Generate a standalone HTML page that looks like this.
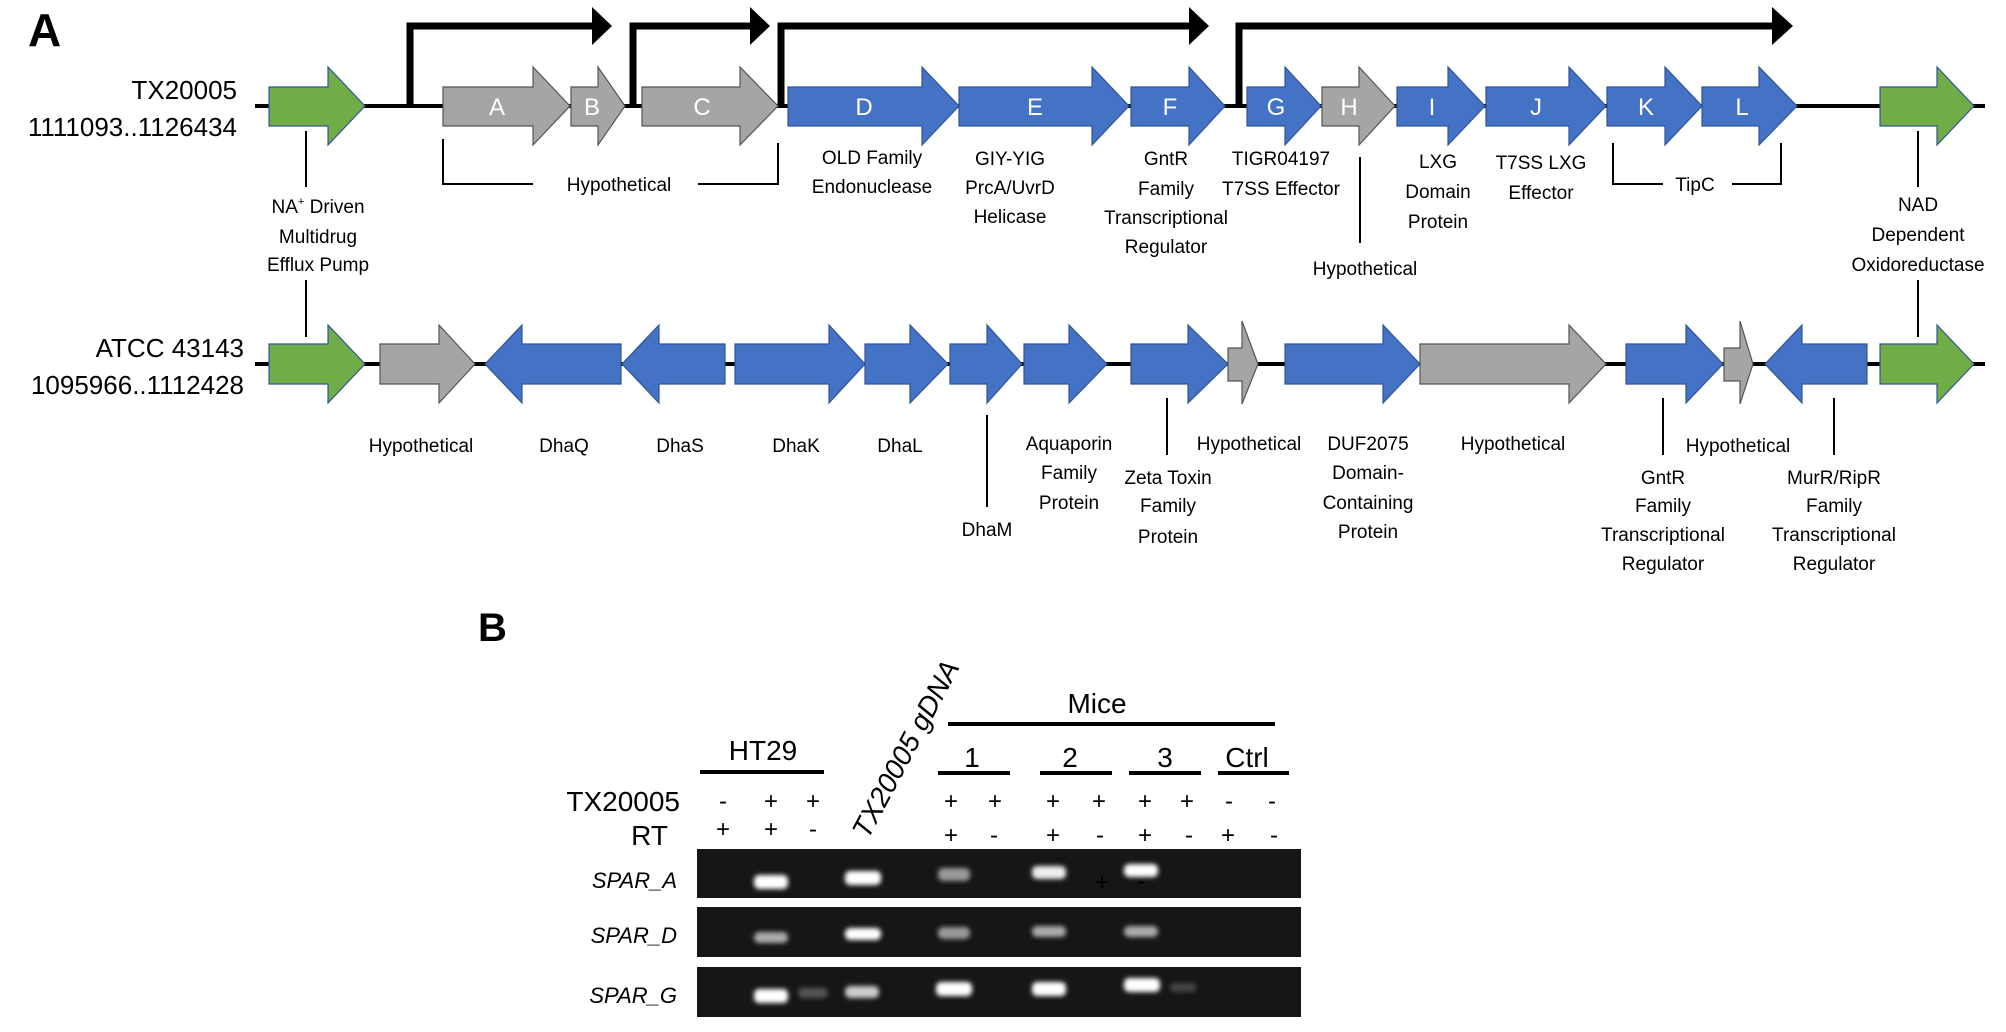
<!DOCTYPE html>
<html><head><meta charset="utf-8"><style>
html,body{margin:0;padding:0;background:#fff;}
svg{display:block;}
text{font-family:"Liberation Sans",sans-serif;}
</style></head><body>
<svg width="2006" height="1032" viewBox="0 0 2006 1032" xmlns="http://www.w3.org/2000/svg">
<defs>
<filter id="bl" x="-50%" y="-100%" width="200%" height="300%"><feGaussianBlur stdDeviation="2.5"/></filter>
</defs>
<text x="28" y="46" font-size="46" font-weight="bold">A</text>
<!-- labels left -->
<g font-size="26" text-anchor="end">
<text x="237" y="99">TX20005</text>
<text x="237" y="136">1111093..1126434</text>
<text x="244" y="357">ATCC 43143</text>
<text x="244" y="394">1095966..1112428</text>
</g>
<!-- backbones -->
<line x1="255" y1="106" x2="1985" y2="106" stroke="#000" stroke-width="4"/>
<line x1="255" y1="364" x2="1985" y2="364" stroke="#000" stroke-width="4"/>
<!-- promoters -->
<g fill="none" stroke="#000" stroke-width="7">
<polyline points="410,106 410,26 594,26"/>
<polyline points="633,106 633,26 752,26"/>
<polyline points="781,106 781,26 1191,26"/>
<polyline points="1239,106 1239,26 1774,26"/>
</g>
<g fill="#000">
<polygon points="592,7 612,26 592,45"/>
<polygon points="750,7 770,26 750,45"/>
<polygon points="1189,7 1209,26 1189,45"/>
<polygon points="1772,7 1793,26 1772,45"/>
</g>
<!-- top genes -->
<g stroke-width="1.2">
<polygon fill="#70AD47" stroke="#2F5597" points="269,87 328,87 328,67 365,106 328,145 328,126 269,126"/>
<polygon fill="#A5A5A5" stroke="#555" points="443,87 533,87 533,67 570,106 533,145 533,126 443,126"/>
<polygon fill="#A5A5A5" stroke="#555" points="571,87 598,87 598,67 625,106 598,145 598,126 571,126"/>
<polygon fill="#A5A5A5" stroke="#555" points="642,87 740,87 740,67 778,106 740,145 740,126 642,126"/>
<polygon fill="#4472C4" stroke="#2F5597" points="788,87 922,87 922,67 959,106 922,145 922,126 788,126"/>
<polygon fill="#4472C4" stroke="#2F5597" points="959,87 1092,87 1092,67 1129,106 1092,145 1092,126 959,126"/>
<polygon fill="#4472C4" stroke="#2F5597" points="1131,87 1189,87 1189,67 1225,106 1189,145 1189,126 1131,126"/>
<polygon fill="#4472C4" stroke="#2F5597" points="1247,87 1285,87 1285,67 1321,106 1285,145 1285,126 1247,126"/>
<polygon fill="#A5A5A5" stroke="#555" points="1322,87 1359,87 1359,67 1395,106 1359,145 1359,126 1322,126"/>
<polygon fill="#4472C4" stroke="#2F5597" points="1397,87 1448,87 1448,67 1485,106 1448,145 1448,126 1397,126"/>
<polygon fill="#4472C4" stroke="#2F5597" points="1486,87 1569,87 1569,67 1606,106 1569,145 1569,126 1486,126"/>
<polygon fill="#4472C4" stroke="#2F5597" points="1607,87 1665,87 1665,67 1702,106 1665,145 1665,126 1607,126"/>
<polygon fill="#4472C4" stroke="#2F5597" points="1702,87 1759,87 1759,67 1797,106 1759,145 1759,126 1702,126"/>
<polygon fill="#70AD47" stroke="#2F5597" points="1880,87 1937,87 1937,67 1974,106 1937,145 1937,126 1880,126"/>
</g>
<g font-size="24" fill="#fff" text-anchor="middle">
<text x="497" y="115">A</text><text x="592" y="115">B</text><text x="702" y="115">C</text>
<text x="864" y="115">D</text><text x="1035" y="115">E</text><text x="1170" y="115">F</text>
<text x="1276" y="115">G</text><text x="1349" y="115">H</text><text x="1432" y="115">I</text>
<text x="1536" y="115">J</text><text x="1646" y="115">K</text><text x="1742" y="115">L</text>
</g>
<!-- bottom genes -->
<g stroke-width="1.2">
<polygon fill="#70AD47" stroke="#2F5597" points="269,344 328,344 328,325 365,364 328,403 328,384 269,384"/>
<polygon fill="#A5A5A5" stroke="#555" points="380,344 439,344 439,325 475,364 439,403 439,384 380,384"/>
<polygon fill="#4472C4" stroke="#2F5597" points="485,364 522,325 522,344 621,344 621,384 522,384 522,403"/>
<polygon fill="#4472C4" stroke="#2F5597" points="622,364 659,325 659,344 725,344 725,384 659,384 659,403"/>
<polygon fill="#4472C4" stroke="#2F5597" points="735,344 829,344 829,325 865,364 829,403 829,384 735,384"/>
<polygon fill="#4472C4" stroke="#2F5597" points="865,344 910,344 910,325 948,364 910,403 910,384 865,384"/>
<polygon fill="#4472C4" stroke="#2F5597" points="950,344 987,344 987,325 1022,364 987,403 987,384 950,384"/>
<polygon fill="#4472C4" stroke="#2F5597" points="1024,344 1069,344 1069,325 1107,364 1069,403 1069,384 1024,384"/>
<polygon fill="#4472C4" stroke="#2F5597" points="1131,344 1188,344 1188,325 1228,364 1188,403 1188,384 1131,384"/>
<polygon fill="#A5A5A5" stroke="#555" points="1228,348 1242,348 1242,321 1258,364 1242,404 1242,381 1228,381"/>
<polygon fill="#4472C4" stroke="#2F5597" points="1285,344 1383,344 1383,325 1420,364 1383,403 1383,384 1285,384"/>
<polygon fill="#A5A5A5" stroke="#555" points="1420,344 1569,344 1569,325 1606,364 1569,403 1569,384 1420,384"/>
<polygon fill="#4472C4" stroke="#2F5597" points="1626,344 1686,344 1686,325 1723,364 1686,403 1686,384 1626,384"/>
<polygon fill="#A5A5A5" stroke="#555" points="1724,348 1740,348 1740,321 1753,364 1740,404 1740,381 1724,381"/>
<polygon fill="#4472C4" stroke="#2F5597" points="1765,364 1802,325 1802,344 1867,344 1867,384 1802,384 1802,403"/>
<polygon fill="#70AD47" stroke="#2F5597" points="1880,344 1937,344 1937,325 1974,364 1937,403 1937,384 1880,384"/>
</g>
<!-- connector lines -->
<g stroke="#000" stroke-width="2" fill="none">
<line x1="306" y1="131" x2="306" y2="187"/><line x1="306" y1="280" x2="306" y2="337"/>
<line x1="1918" y1="131" x2="1918" y2="187"/><line x1="1918" y1="280" x2="1918" y2="337"/>
<polyline points="443,139 443,184 533,184"/><polyline points="698,184 778,184 778,143"/>
<polyline points="1613,143 1613,184 1663,184"/><polyline points="1732,184 1781,184 1781,143"/>
<line x1="1360" y1="157" x2="1360" y2="243"/>
<line x1="987" y1="415" x2="987" y2="507"/>
<line x1="1167" y1="398" x2="1167" y2="455"/>
<line x1="1663" y1="398" x2="1663" y2="455"/>
<line x1="1834" y1="398" x2="1834" y2="455"/>
</g>
<g font-size="19" text-anchor="middle">
<text x="619" y="191">Hypothetical</text>
<text x="1695" y="191">TipC</text>
<text x="318" y="213">NA<tspan font-size="11" dy="-8">+</tspan><tspan dy="8"> Driven</tspan></text>
<text x="318" y="243">Multidrug</text><text x="318" y="271">Efflux Pump</text>
<text x="872" y="164">OLD Family</text><text x="872" y="193">Endonuclease</text>
<text x="1010" y="165">GIY-YIG</text><text x="1010" y="194">PrcA/UvrD</text><text x="1010" y="223">Helicase</text>
<text x="1166" y="165">GntR</text><text x="1166" y="195">Family</text><text x="1166" y="224">Transcriptional</text><text x="1166" y="253">Regulator</text>
<text x="1281" y="165">TIGR04197</text><text x="1281" y="195">T7SS Effector</text>
<text x="1365" y="275">Hypothetical</text>
<text x="1438" y="168">LXG</text><text x="1438" y="198">Domain</text><text x="1438" y="228">Protein</text>
<text x="1541" y="169">T7SS LXG</text><text x="1541" y="199">Effector</text>
<text x="1918" y="211">NAD</text><text x="1918" y="241">Dependent</text><text x="1918" y="271">Oxidoreductase</text>
<text x="421" y="452">Hypothetical</text><text x="564" y="452">DhaQ</text><text x="680" y="452">DhaS</text>
<text x="796" y="452">DhaK</text><text x="900" y="452">DhaL</text><text x="987" y="536">DhaM</text>
<text x="1069" y="450">Aquaporin</text><text x="1069" y="479">Family</text><text x="1069" y="509">Protein</text>
<text x="1168" y="484">Zeta Toxin</text><text x="1168" y="512">Family</text><text x="1168" y="543">Protein</text>
<text x="1249" y="450">Hypothetical</text>
<text x="1368" y="450">DUF2075</text><text x="1368" y="479">Domain-</text><text x="1368" y="509">Containing</text><text x="1368" y="538">Protein</text>
<text x="1513" y="450">Hypothetical</text>
<text x="1663" y="484">GntR</text><text x="1663" y="512">Family</text><text x="1663" y="541">Transcriptional</text><text x="1663" y="570">Regulator</text>
<text x="1738" y="452">Hypothetical</text>
<text x="1834" y="484">MurR/RipR</text><text x="1834" y="512">Family</text><text x="1834" y="541">Transcriptional</text><text x="1834" y="570">Regulator</text>
</g>
<!-- Panel B -->
<text x="478" y="641" font-size="40" font-weight="bold">B</text>
<g font-size="28" text-anchor="middle">
<text x="763" y="760">HT29</text><text x="1097" y="713">Mice</text>
<text x="972" y="767">1</text><text x="1070" y="767">2</text><text x="1165" y="767">3</text><text x="1247" y="767">Ctrl</text>
</g>
<g stroke="#000" stroke-width="4">
<line x1="700" y1="772" x2="824" y2="772"/><line x1="948" y1="724" x2="1275" y2="724"/>
<line x1="938" y1="773" x2="1010" y2="773"/><line x1="1040" y1="773" x2="1112" y2="773"/>
<line x1="1129" y1="773" x2="1201" y2="773"/><line x1="1218" y1="773" x2="1289" y2="773"/>
</g>
<g font-size="28" text-anchor="end">
<text x="680" y="811">TX20005</text><text x="668" y="845">RT</text>
</g>
<g font-size="24" text-anchor="middle">
<text x="723" y="809">-</text><text x="771" y="809">+</text><text x="813" y="809">+</text>
<text x="951" y="809">+</text><text x="995" y="809">+</text><text x="1053" y="809">+</text><text x="1099" y="809">+</text>
<text x="1145" y="809">+</text><text x="1187" y="809">+</text><text x="1229" y="809">-</text><text x="1272" y="809">-</text>
<text x="723" y="837">+</text><text x="771" y="837">+</text><text x="813" y="837">-</text>
<text x="951" y="843">+</text><text x="994" y="843">-</text><text x="1053" y="843">+</text><text x="1100" y="843">-</text>
<text x="1145" y="843">+</text><text x="1189" y="843">-</text><text x="1228" y="843">+</text><text x="1274" y="843">-</text>
</g>
<text x="0" y="0" font-size="28" font-style="italic" transform="translate(868,840) rotate(-62)">TX20005 gDNA</text>
<g font-size="22" font-style="italic" text-anchor="end">
<text x="677" y="888">SPAR_A</text><text x="677" y="943">SPAR_D</text><text x="677" y="1003">SPAR_G</text>
</g>
<rect x="697" y="849" width="604" height="49" fill="#161616"/>
<rect x="697" y="907" width="604" height="50" fill="#161616"/>
<rect x="697" y="967" width="604" height="50" fill="#161616"/>
<g filter="url(#bl)">
<rect x="754" y="875" width="34" height="14" rx="5" fill="#fff"/>
<rect x="845" y="871" width="36" height="14" rx="5" fill="#fff"/>
<rect x="938" y="868" width="32" height="13" rx="5" fill="#999"/>
<rect x="1032" y="866" width="34" height="13" rx="5" fill="#eee"/>
<rect x="1124" y="864" width="34" height="13" rx="5" fill="#fff"/>
<rect x="754" y="932" width="34" height="11" rx="5" fill="#aaa"/>
<rect x="845" y="928" width="36" height="12" rx="5" fill="#fff"/>
<rect x="938" y="927" width="32" height="12" rx="5" fill="#999"/>
<rect x="1032" y="926" width="34" height="11" rx="5" fill="#aaa"/>
<rect x="1124" y="926" width="34" height="11" rx="5" fill="#aaa"/>
<rect x="754" y="989" width="34" height="14" rx="5" fill="#fff"/>
<rect x="798" y="988" width="30" height="10" rx="5" fill="#555"/>
<rect x="845" y="986" width="34" height="12" rx="5" fill="#ccc"/>
<rect x="936" y="982" width="36" height="14" rx="5" fill="#fff"/>
<rect x="1032" y="982" width="34" height="14" rx="5" fill="#fff"/>
<rect x="1124" y="978" width="36" height="14" rx="5" fill="#fff"/>
<rect x="1170" y="983" width="26" height="9" rx="4" fill="#444"/>
</g>
<text x="1102" y="890" font-size="24" text-anchor="middle">+</text>
<text x="1141" y="889" font-size="24" text-anchor="middle">-</text>
</svg>
</body></html>
